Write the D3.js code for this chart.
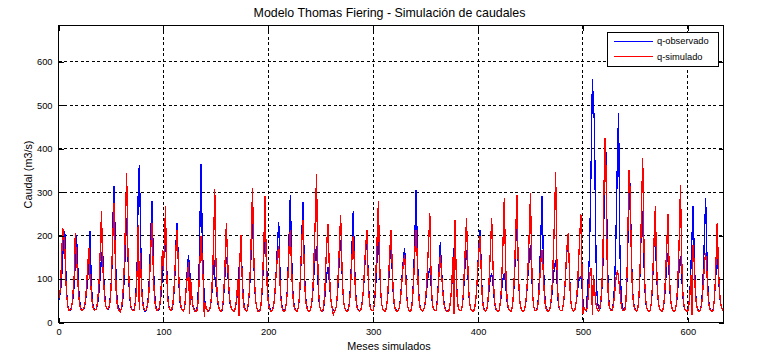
<!DOCTYPE html>
<html><head><meta charset="utf-8">
<script src="https://cdn.jsdelivr.net/npm/d3@7"></script>
<style>
body{margin:0;background:#fff}
svg{display:block}
text{font-family:"Liberation Sans",Arial,Helvetica,sans-serif;fill:#000}
</style>
</head><body>
<svg id="chart" width="761" height="355"></svg>
<script>
const titleText = "Modelo Thomas Fiering - Simulación de caudales";
const xLabel = "Meses simulados";
const yLabel = "Caudal (m3/s)";
const seriesNames = ["q-observado", "q-simulado"];
const xTicks = [0, 100, 200, 300, 400, 500, 600];
const yTicks = [0, 100, 200, 300, 400, 500, 600];

// caudal observado (month 0 .. 634)
const observado = [
50,58,72,100,150,195,210,120,62,36,29,28,
32,42,60,85,140,200,160,85,52,36,30,29,
30,38,55,75,110,160,210,120,60,38,30,29,
30,40,55,80,115,150,170,110,65,40,32,30,
33,48,80,130,245,315,200,90,50,35,30,28,
30,45,70,120,190,240,170,95,55,35,29,27,
30,42,75,140,300,361,250,100,55,35,26,25,
30,45,70,130,200,280,190,100,55,35,29,27,
30,45,70,110,150,170,205,140,70,40,31,29,
29,40,65,110,180,228,160,80,45,33,30,28,
30,50,90,130,155,120,90,60,40,32,28,27,
30,60,120,250,365,200,110,60,40,32,28,26,
27,38,60,100,150,105,90,65,42,31,28,27,
28,45,80,120,150,130,90,55,38,30,27,26,
27,38,55,85,120,150,171,120,65,38,30,28,
29,42,70,120,180,236,160,85,48,34,28,28,
28,40,65,115,170,228,170,90,50,35,29,28,
28,38,55,90,140,190,232,130,60,38,30,28,
29,42,70,130,210,294,180,90,50,35,29,27,
28,40,68,125,200,278,170,85,48,34,28,27,
28,38,55,90,130,160,175,120,60,36,29,27,
27,38,60,95,115,128,100,70,45,32,28,27,
27,40,65,110,160,190,140,75,44,32,28,27,
28,40,68,120,190,257,160,80,46,33,28,27,
28,37,55,85,130,165,190,130,65,38,30,28,
28,40,65,110,160,190,140,75,44,32,28,27,
28,40,65,105,150,182,130,72,43,32,28,27,
27,36,55,85,120,150,172,120,62,37,29,27,
28,42,75,140,220,305,180,90,48,34,28,27,
27,36,52,75,100,115,125,95,55,35,29,27,
28,48,85,140,185,130,90,55,38,30,27,26,
27,37,55,88,130,165,194,130,62,37,29,27,
28,40,65,105,145,167,130,72,43,32,28,27,
27,36,55,90,140,180,213,130,62,37,29,27,
28,40,62,90,105,113,95,65,42,31,28,27,
28,40,60,88,104,113,96,66,42,31,28,27,
28,41,70,120,185,244,160,80,45,33,28,27,
28,38,56,88,125,155,178,125,62,37,29,27,
28,42,75,135,210,290,175,88,47,33,28,27,
28,37,54,80,110,130,144,110,58,36,29,27,
27,37,56,90,135,175,202,130,62,37,29,27,
28,37,55,78,95,102,106,85,52,34,29,27,
60,100,144,251,397,559,500,458,221,83,45,33,
30,45,75,130,244,400,390,200,80,40,31,28,
30,45,80,150,260,400,481,200,90,45,32,29,
30,50,100,200,274,320,180,90,50,35,29,27,
28,45,85,160,263,230,150,80,45,32,28,27,
28,42,70,130,200,185,130,72,43,32,28,27,
28,40,62,100,140,160,120,70,43,31,28,27,
28,40,62,98,135,152,118,68,42,31,28,27,
28,42,72,130,200,268,170,85,46,33,28,27,
28,42,75,135,210,286,175,88,47,33,28,27,
28,45,80,120,152,120,75,48,35,29,28
];

// caudal simulado (month 0 .. 634)
const simulado = [
65,60,85,150,218,200,175,95,58,34,27,30,
30,45,75,110,205,150,120,70,45,32,27,28,
32,40,58,95,135,171,105,80,48,33,28,30,
31,45,70,110,180,257,140,95,55,38,32,30,
35,45,75,140,210,275,160,70,40,30,27,25,
32,55,90,150,250,344,180,110,60,38,30,28,
28,40,65,120,225,28,160,90,50,34,29,28,
30,42,60,110,170,228,150,80,45,32,28,30,
32,50,90,167,120,180,267,130,60,38,30,28,
30,42,70,120,170,213,150,90,50,34,28,27,
32,55,85,110,140,20,100,65,42,30,26,25,
28,45,90,150,198,140,95,13,45,32,27,25,
28,40,65,120,200,307,150,80,48,33,27,26,
29,50,90,150,228,160,100,60,40,31,27,26,
27,40,60,100,16,150,200,110,55,34,28,26,
28,45,75,130,220,309,170,90,50,33,26,25,
27,40,70,130,200,290,150,80,45,32,27,26,
27,36,58,95,130,160,175,100,55,34,28,26,
28,40,65,120,180,213,140,80,45,32,27,26,
27,42,70,130,190,236,150,75,44,32,27,26,
27,38,60,100,180,250,342,160,70,38,29,26,
27,42,75,140,190,227,140,75,45,32,19,26,
27,40,70,130,190,248,150,80,45,32,27,26,
27,38,62,110,160,198,140,75,44,31,27,26,
27,36,55,90,140,180,213,120,60,36,29,27,
27,42,75,140,210,280,150,80,45,32,27,26,
27,40,70,120,170,213,145,78,45,32,27,26,
27,35,52,80,115,140,155,110,58,35,28,26,
27,40,70,120,175,213,150,80,45,32,27,26,
27,37,55,90,140,190,252,130,60,36,29,27,
27,45,80,120,155,120,85,52,36,29,26,25,
26,36,55,90,150,20,236,130,60,36,29,27,
27,40,70,125,180,240,150,78,44,32,27,26,
27,37,56,92,135,170,198,120,58,35,28,26,
27,40,70,125,180,240,150,78,44,32,27,26,
27,42,72,130,200,286,160,82,45,32,27,26,
27,42,75,140,210,294,165,82,45,32,27,26,
27,38,58,95,150,220,298,150,65,37,29,27,
27,40,65,105,145,167,125,72,43,31,27,26,
27,38,60,100,170,250,345,160,70,38,29,27,
27,38,57,92,140,180,206,125,60,36,28,26,
27,37,56,92,150,200,249,130,20,36,29,27,
32,60,90,120,125,18,110,80,50,34,28,26,
32,50,80,150,300,424,350,150,70,38,30,28,
28,40,60,90,110,120,100,80,50,34,28,27,
29,50,110,230,351,300,170,85,48,33,28,26,
28,45,90,170,280,378,200,90,48,33,27,26,
27,42,75,140,200,267,150,78,44,32,27,26,
27,40,70,125,180,250,145,78,44,32,27,26,
27,42,72,130,210,317,160,80,45,32,27,26,
27,40,65,110,17,179,140,78,44,32,27,26,
27,40,62,100,140,160,125,72,43,31,27,26,
27,45,85,150,229,140,80,50,36,30,27
];

const xMax = 634, yMax = 683;
const L = 58.5, R = 723.5, T = 25.5, B = 322.5;
const svg = d3.select("#chart");
const x = d3.scaleLinear().domain([0, xMax]).range([L, R]);
const y = d3.scaleLinear().domain([0, yMax]).range([B, T]);
const snap = v => Math.round(v - 0.5) + 0.5;

svg.append("rect").attr("width", 761).attr("height", 355).attr("fill", "#fff");

svg.append("defs").append("clipPath").attr("id", "clip")
  .append("rect").attr("x", L).attr("y", T).attr("width", R - L).attr("height", B - T);

// grid
const grid = svg.append("g").attr("stroke", "#000").attr("stroke-width", 1)
  .attr("stroke-dasharray", "3,2.5").attr("fill", "none").attr("shape-rendering", "crispEdges");
xTicks.filter(v => v > 0).forEach(v => {
  grid.append("line").attr("x1", snap(x(v))).attr("x2", snap(x(v))).attr("y1", T).attr("y2", B);
});
yTicks.filter(v => v > 0).forEach(v => {
  grid.append("line").attr("y1", snap(y(v))).attr("y2", snap(y(v))).attr("x1", L).attr("x2", R);
});

// series
const line = d3.line().x((d, i) => x(i)).y(d => y(d));
const plot = svg.append("g").attr("clip-path", "url(#clip)");
plot.append("path").datum(observado).attr("d", line)
  .attr("fill", "none").attr("stroke", "#0000ff").attr("stroke-width", 1.3)
  .attr("shape-rendering", "crispEdges");
plot.append("path").datum(simulado).attr("d", line)
  .attr("fill", "none").attr("stroke", "#ff0000").attr("stroke-width", 1.3)
  .attr("shape-rendering", "crispEdges");

// axes box
svg.append("rect").attr("x", L).attr("y", T).attr("width", R - L).attr("height", B - T)
  .attr("fill", "none").attr("stroke", "#000").attr("stroke-width", 1).attr("shape-rendering", "crispEdges");

// ticks (inward) using d3 axes
const tk = 5;
const fs = "9.3px";
const axB = svg.append("g").attr("transform", `translate(0,${B})`)
  .call(d3.axisBottom(x).tickValues(xTicks).tickSize(-tk).tickPadding(7).tickFormat(d3.format("d")));
const axT = svg.append("g").attr("transform", `translate(0,${T})`)
  .call(d3.axisTop(x).tickValues(xTicks).tickSize(-tk).tickFormat(""));
const axL = svg.append("g").attr("transform", `translate(${L},0)`)
  .call(d3.axisLeft(y).tickValues(yTicks).tickSize(-tk).tickPadding(6).tickFormat(d3.format("d")));
const axR = svg.append("g").attr("transform", `translate(${R},0)`)
  .call(d3.axisRight(y).tickValues(yTicks).tickSize(-tk).tickFormat(""));
[axB, axT, axL, axR].forEach(a => {
  a.select(".domain").remove();
  a.selectAll("line").attr("stroke", "#000").attr("shape-rendering", "crispEdges");
  a.selectAll("text").attr("font-size", fs).attr("font-family", '"Liberation Sans",Arial,sans-serif').attr("fill", "#000");
});
axB.selectAll("text").attr("dy", "0.71em").attr("y", 6);

// title and labels
svg.append("text").attr("x", 389.5).attr("y", 16.5).attr("text-anchor", "middle")
  .attr("font-size", "12.4px").text(titleText);
svg.append("text").attr("x", 389).attr("y", 349.5).attr("text-anchor", "middle")
  .attr("font-size", "10.8px").text(xLabel);
svg.append("text").attr("transform", "translate(31.5,174.5) rotate(-90)").attr("text-anchor", "middle")
  .attr("font-size", "10.8px").text(yLabel);

// legend
const lg = svg.append("g");
lg.append("rect").attr("x", 607.5).attr("y", 32.5).attr("width", 111).attr("height", 34)
  .attr("fill", "#fff").attr("stroke", "#000").attr("stroke-width", 1).attr("shape-rendering", "crispEdges");
const colors = ["#0000ff", "#ff0000"];
seriesNames.forEach((n, i) => {
  const yy = 41 + i * 15.5;
  lg.append("line").attr("x1", 614).attr("x2", 653).attr("y1", yy).attr("y2", yy)
    .attr("stroke", colors[i]).attr("stroke-width", 1).attr("shape-rendering", "crispEdges");
  lg.append("text").attr("x", 657).attr("y", yy + 3.2).attr("font-size", fs).text(n);
});
</script>
</body></html>
